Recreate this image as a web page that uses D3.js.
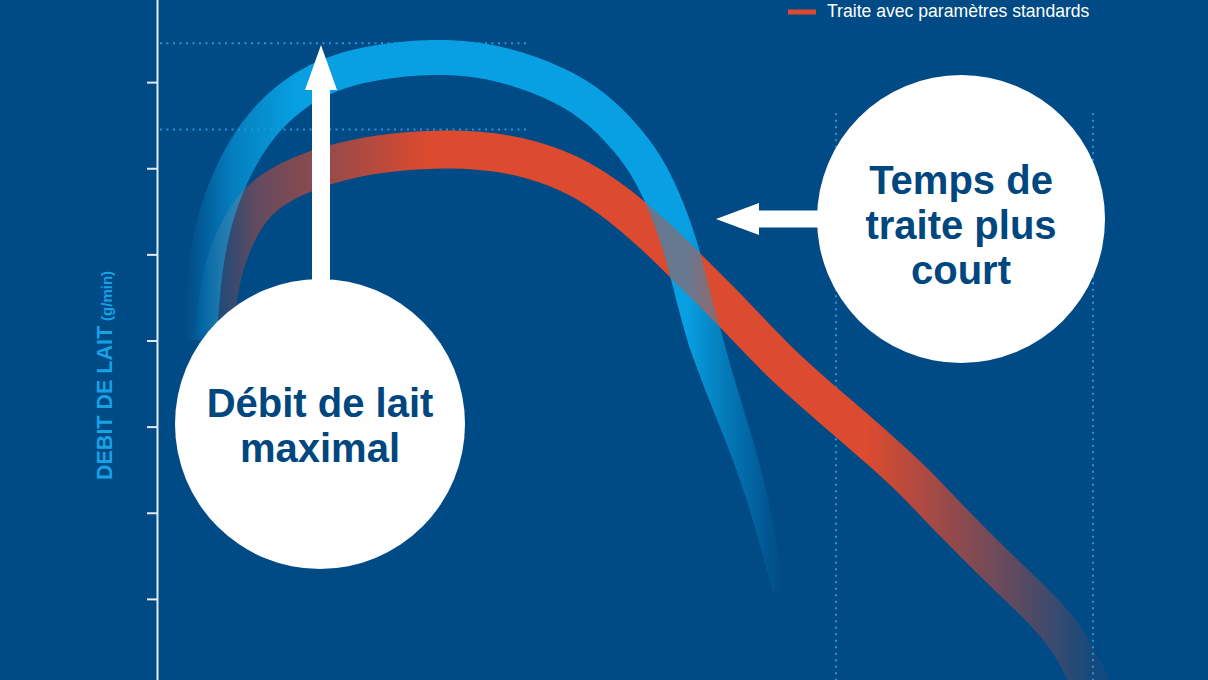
<!DOCTYPE html>
<html>
<head>
<meta charset="utf-8">
<script src="https://cdn.jsdelivr.net/npm/d3@7/dist/d3.min.js"></script>
<style>
  html, body { margin: 0; padding: 0; background: #004a85; }
  svg { display: block; font-family: "Liberation Sans", Arial, Helvetica, sans-serif; }
</style>
</head>
<body>
<div id="chart"></div>
<script>
// time (x) and milk flow (y)
var tempsOptimise = [0.42, 0.47, 0.58, 0.78, 1.05, 1.43, 1.83, 2.23, 2.73, 3.23, 3.73, 4.28, 4.68, 4.93, 5.11, 5.25, 5.37, 5.51, 5.68, 5.86, 6.01, 6.13, 6.22];
var debitOptimise = [4.00, 4.82, 5.46, 6.04, 6.54, 6.93, 7.14, 7.24, 7.30, 7.27, 7.12, 6.83, 6.38, 5.98, 5.51, 5.05, 4.47, 3.89, 3.31, 2.73, 2.15, 1.57, 1.10];

var tempsStandard = [0.56, 0.63, 0.81, 1.06, 1.56, 2.13, 2.63, 3.23, 3.73, 4.23, 4.63, 4.98, 5.31, 5.78, 6.23, 6.79, 7.23, 7.58, 7.93, 8.43, 8.81, 9.13, 9.36];
var debitStandard = [4.00, 4.76, 5.31, 5.72, 6.00, 6.16, 6.22, 6.22, 6.12, 5.90, 5.57, 5.22, 4.84, 4.30, 3.73, 3.17, 2.73, 2.36, 1.92, 1.34, 0.93, 0.52, -0.05];

var yTicks = [1, 2, 3, 4, 5, 6, 7];
var niveauxMax = [7.45, 6.45];     // dotted lines at the two peaks
var tempsFin = [6.79, 9.36];       // dotted lines at end of milking
var legende = ["Traite avec paramètres standards"];

var width = 1208, height = 680;

var x = d3.scaleLinear().domain([0, 10]).range([157, 1157]);
var y = d3.scaleLinear().domain([0, 8]).range([685, -4]);

var svg = d3.select("#chart").append("svg")
  .attr("width", width).attr("height", height);

svg.append("rect").attr("width", width).attr("height", height).attr("fill", "#004a85");

var defs = svg.append("defs");

// gradients fading the ribbons into the background
function gradient(id, color, stops){
  var g = defs.append("linearGradient").attr("id", id)
    .attr("gradientUnits", "userSpaceOnUse")
    .attr("x1", x(0)).attr("x2", x(10)).attr("y1", 0).attr("y2", 0);
  stops.forEach(function(s){
    g.append("stop").attr("offset", (s[0] / 10)).attr("stop-color", color).attr("stop-opacity", s[1]);
  });
}
gradient("gradBleu", "#08a0e2", [[0.28, 0], [0.75, 0.6], [1.4, 1], [5.3, 1], [5.55, 0.7], [5.9, 0.35], [6.15, 0.1], [6.25, 0]]);
gradient("gradRouge", "#dc4a2f", [[0.45, 0], [1.0, 0.45], [2.7, 1], [7.1, 1], [8.4, 0.5], [9.4, 0.08]]);

var line = d3.line()
  .x(function(d){ return x(d[0]); })
  .y(function(d){ return y(d[1]); })
  .curve(d3.curveBasis);

var optimise = tempsOptimise.map(function(t, i){ return [t, debitOptimise[i]]; });
var standard = tempsStandard.map(function(t, i){ return [t, debitStandard[i]]; });

// reference lines
var dots = svg.append("g").attr("stroke", "#2b93d8").attr("stroke-width", 2).attr("stroke-dasharray", "2,4.5");
dots.selectAll("line.h").data(niveauxMax).enter().append("line").attr("class", "h")
  .attr("x1", x(0.03)).attr("x2", x(3.73))
  .attr("y1", function(d){ return y(d); }).attr("y2", function(d){ return y(d); });
dots.selectAll("line.v").data(tempsFin).enter().append("line").attr("class", "v")
  .attr("x1", function(d){ return x(d); }).attr("x2", function(d){ return x(d); })
  .attr("y1", y(6.64)).attr("y2", height);

// blue ribbon gets thinner as the flow drops at the end
var guide = svg.append("path").datum(optimise).attr("d", line).attr("fill", "none").attr("stroke", "none");
function ribbon(node, widthAt){
  var L = node.getTotalLength(), n = 400, left = [], right = [];
  for (var i = 0; i <= n; i++){
    var s = L * i / n;
    var p = node.getPointAtLength(s);
    var a = node.getPointAtLength(Math.max(0, s - 0.5)), b = node.getPointAtLength(Math.min(L, s + 0.5));
    var dx = b.x - a.x, dy = b.y - a.y, len = Math.sqrt(dx * dx + dy * dy) || 1;
    var nx = -dy / len, ny = dx / len, w = widthAt(p) / 2;
    left.push([p.x + nx * w, p.y + ny * w]);
    right.push([p.x - nx * w, p.y - ny * w]);
  }
  return "M" + left.concat(right.reverse()).map(function(q){ return q[0].toFixed(1) + "," + q[1].toFixed(1); }).join("L") + "Z";
}
var yTaper = y(4.0), yEnd = y(1.1);
var bleuD = ribbon(guide.node(), function(p){
  if (p.x > x(5) && p.y > yTaper) return 35 - 22 * (p.y - yTaper) / (yEnd - yTaper);
  return 35;
});

svg.append("path").attr("d", bleuD).attr("fill", "url(#gradBleu)");

svg.append("path").datum(standard).attr("d", line)
  .attr("fill", "none").attr("stroke", "url(#gradRouge)").attr("stroke-width", 38);

// blend blue over red where they cross
var mask = defs.append("mask").attr("id", "surRouge").attr("maskUnits", "userSpaceOnUse")
  .attr("x", 0).attr("y", 0).attr("width", width).attr("height", height);
mask.append("path").datum(standard).attr("d", line)
  .attr("fill", "none").attr("stroke", "#fff").attr("stroke-width", 38);
svg.append("path").attr("d", bleuD).attr("fill", "url(#gradBleu)")
  .attr("opacity", 0.55).attr("mask", "url(#surRouge)");

// y axis
var axis = svg.append("g").attr("transform", "translate(" + x(0) + ",0)")
  .call(d3.axisLeft(y).tickValues(yTicks).tickFormat("").tickSize(10).tickSizeOuter(0));
axis.select(".domain").attr("stroke", "#e3e9f0").attr("stroke-width", 2);
axis.selectAll(".tick line").attr("stroke", "#e3e9f0").attr("stroke-width", 2);

var ylab = svg.append("text")
  .attr("transform", "translate(112,480) rotate(-90)")
  .attr("fill", "#17a2e6").attr("font-weight", "bold").style("font-size", "21.5px");
ylab.append("tspan").text("DEBIT DE LAIT");
ylab.append("tspan").style("font-size", "15px").attr("dx", 5).text("(g/min)");

// legend
var leg = svg.append("g").selectAll("g").data(legende).enter().append("g");
leg.append("rect").attr("x", 788).attr("y", 9.5).attr("width", 28).attr("height", 5).attr("fill", "#dc4a2f");
leg.append("text").attr("x", 827).attr("y", 17).attr("fill", "#ffffff").style("font-size", "17.6px").text(function(d){ return d; });

// annotation bubbles
var navy = "#00467f";
function bulle(cx, cy, r, lignes, y0){
  svg.append("circle").attr("cx", cx).attr("cy", cy).attr("r", r).attr("fill", "#ffffff");
  svg.append("text").attr("text-anchor", "middle").attr("fill", navy)
    .attr("font-weight", "bold").style("font-size", "40px")
    .selectAll("tspan").data(lignes).enter().append("tspan")
    .attr("x", cx).attr("y", function(d, i){ return y0 + i * 45; })
    .text(function(d){ return d; });
}

// upward arrow to max flow
var ax = x(1.64), aTop = y(7.43), aBase = aTop + 45;
svg.append("path").attr("fill", "#ffffff")
  .attr("d", "M" + ax + "," + aTop + "L" + (ax + 16) + "," + aBase + "L" + (ax + 9) + "," + aBase +
    "L" + (ax + 9) + ",300L" + (ax - 9) + ",300L" + (ax - 9) + "," + aBase + "L" + (ax - 16) + "," + aBase + "Z");
bulle(x(1.63), y(3.03), 145, ["Débit de lait", "maximal"], 417);

// leftward arrow to shorter milking time
var ly = y(5.41), lTip = x(5.59), lBase = lTip + 43;
svg.append("path").attr("fill", "#ffffff")
  .attr("d", "M" + lTip + "," + ly + "L" + lBase + "," + (ly - 16) + "L" + lBase + "," + (ly - 8.5) +
    "L840," + (ly - 8.5) + "L840," + (ly + 8.5) + "L" + lBase + "," + (ly + 8.5) + "L" + lBase + "," + (ly + 16) + "Z");
bulle(x(8.04), y(5.41), 144, ["Temps de", "traite plus", "court"], 194);
</script>
</body>
</html>
